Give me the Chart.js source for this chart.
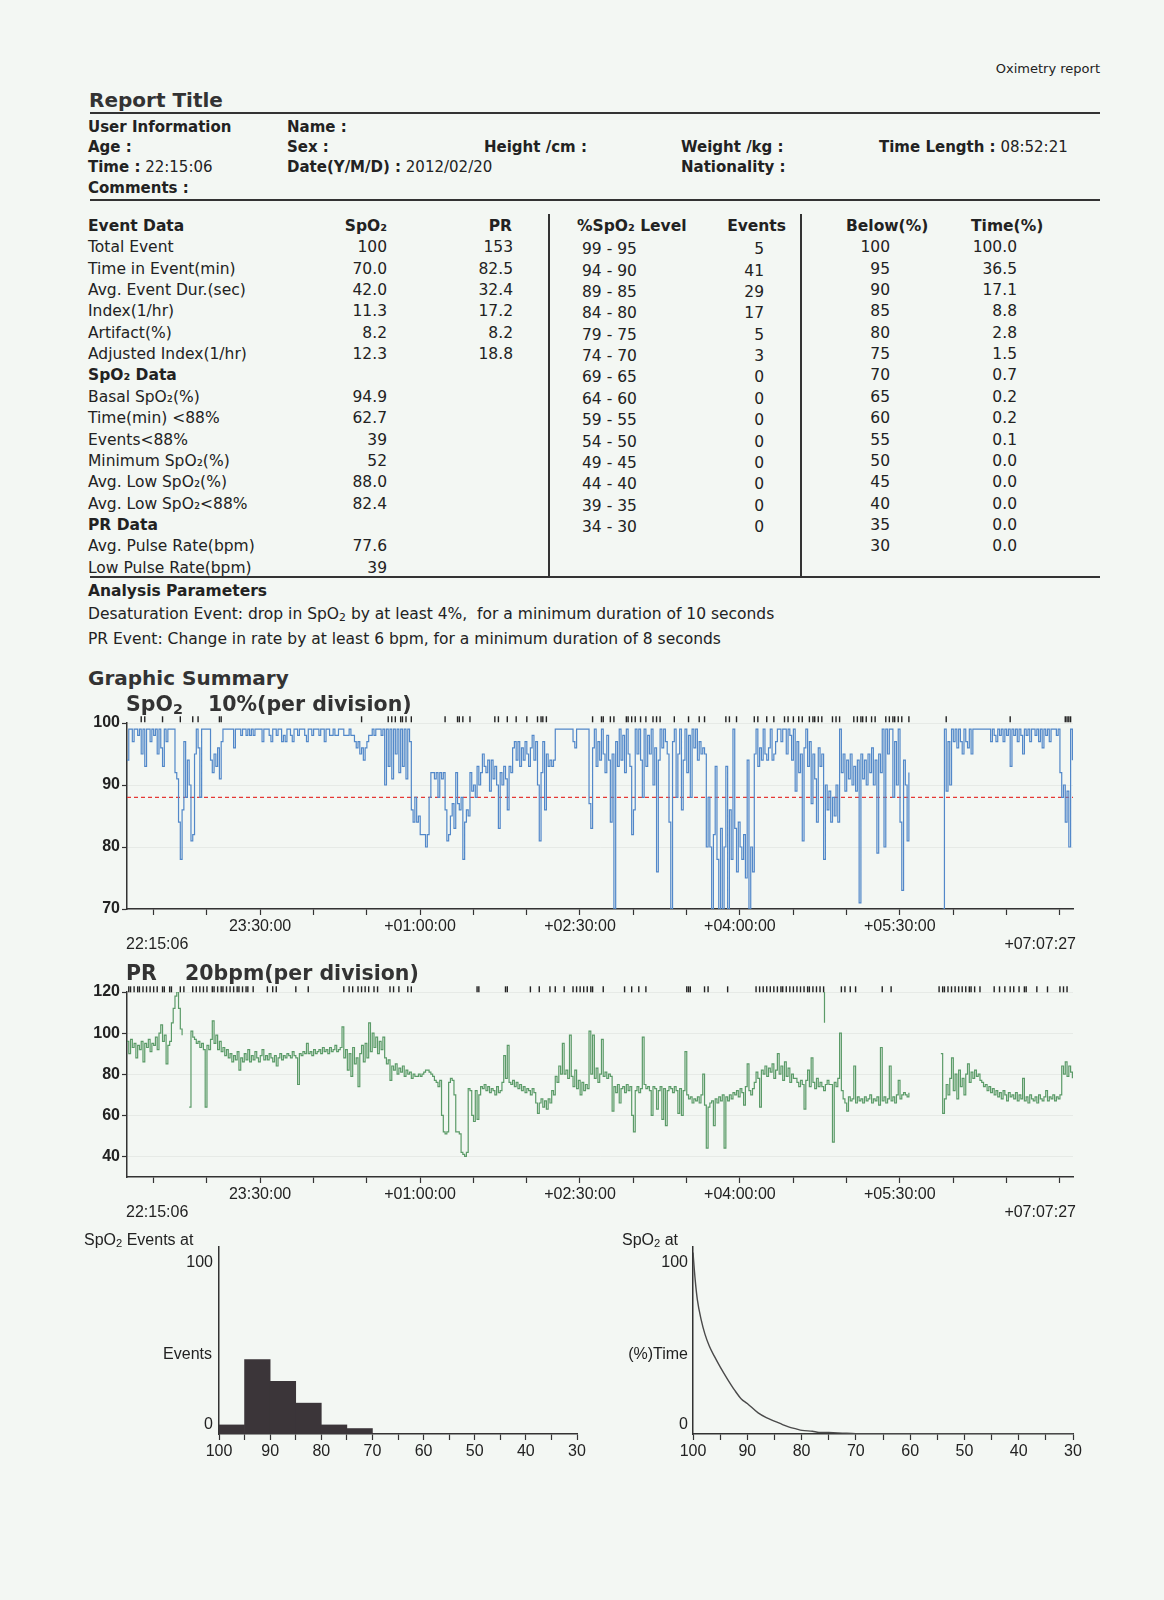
<!DOCTYPE html>
<html>
<head>
<meta charset="utf-8">
<script src="https://cdn.jsdelivr.net/npm/chart.js@4.4.1/dist/chart.umd.min.js"></script>
<style>
    body { margin: 0; background: #f3f7f3; }
    #page { position: relative; width: 1164px; height: 1600px; overflow: hidden; background: #f3f7f3;
        font-family: "DejaVu Sans", sans-serif; color: #222; }
    .txt { position: absolute; white-space: nowrap; line-height: 1.15; }
    .rule { position: absolute; background: #333; }
    canvas { position: absolute; }
    sub { font-size: 0.7em; vertical-align: -0.2em; line-height: 0; }
</style>
</head>
<body>
<div id="page">
    <canvas id="spo2-chart" width="1002" height="235" style="left:80px; top:700px;"></canvas>
    <canvas id="pr-chart" width="1002" height="233" style="left:80px; top:970px;"></canvas>
    <canvas id="events-chart" width="439" height="234" style="left:150px; top:1230px;"></canvas>
    <canvas id="time-chart" width="465" height="234" style="left:620px; top:1230px;"></canvas>
</div>
<script>
// Recording: start 22:15:06, length 08:52:21
const totalMinutes = 532.35;
const axisTickMinutes = [14.9, 44.9, 74.9, 104.9, 134.9, 164.9, 194.9, 224.9, 254.9, 284.9, 314.9, 344.9, 374.9, 404.9, 434.9, 464.9, 494.9, 524.9];
const axisLabelMinutes = [74.9, 164.9, 254.9, 344.9, 434.9];
const axisLabels = ['23:30:00', '+01:00:00', '+02:30:00', '+04:00:00', '+05:30:00'];

// SpO2 trace, one value per minute from the start (null = no signal)
const spo2Values = [
    94, 99, 99, 97, 99, 99, 98, 99, 95, 99,
    93, 99, 99, 97, 99, 98, 99, 95, 99, 96,
    93, 99, 97, 99, 99, 99, 99, 92, 91, 84,
    78, 86, 97, 88, 94, 90, 81, 82, 95, 99,
    96, 88, 99, 99, 99, 99, 99, 94, 92, 95,
    93, 96, 91, 97, 99, 99, 99, 99, 99, 99,
    96, 99, 99, 99, 98, 99, 99, 98, 99, 98,
    99, 98, 99, 99, 99, 99, 97, 99, 99, 99,
    98, 97, 99, 99, 98, 99, 99, 97, 98, 97,
    99, 99, 98, 97, 99, 99, 98, 99, 99, 99,
    98, 97, 99, 99, 98, 99, 99, 99, 98, 99,
    99, 97, 99, 99, 98, 98, 99, 98, 98, 99,
    99, 99, 98, 98, 98, 99, 98, 98, 97, 96,
    97, 95, 96, 94, 96, 97, 98, 98, 99, 98,
    99, 99, 99, 98, 99, 90, 99, 93, 99, 91,
    99, 95, 99, 92, 99, 93, 99, 91, 99, 97,
    86, 84, 88, 84, 85, 82, 82, 82, 80, 82,
    88, 92, 92, 91, 92, 88, 92, 91, 92, 86,
    81, 82, 85, 87, 83, 92, 87, 86, 88, 78,
    84, 86, 85, 92, 89, 90, 88, 93, 90, 92,
    95, 93, 92, 94, 89, 94, 91, 93, 90, 83,
    92, 90, 93, 91, 86, 93, 92, 96, 97, 94,
    97, 93, 96, 94, 97, 95, 93, 96, 98, 94,
    97, 90, 81, 92, 97, 86, 95, 93, 94, 93,
    94, 99, 99, 99, 99, 99, 99, 99, 99, 99,
    99, 97, 96, 99, 99, 99, 99, 99, 99, 99,
    87, 83, 96, 99, 93, 97, 94, 99, 95, 92,
    98, 94, 84, 95, 70, 97, 93, 99, 94, 98,
    92, 99, 95, 93, 82, 86, 99, 95, 99, 94,
    88, 99, 93, 98, 95, 99, 90, 96, 76, 94,
    99, 96, 99, 97, 95, 84, 70, 97, 99, 88,
    95, 99, 86, 94, 99, 92, 98, 88, 99, 96,
    99, 94, 97, 95, 96, 95, 80, 88, 80, 70,
    82, 93, 78, 70, 83, 70, 80, 93, 70, 86,
    78, 99, 83, 76, 84, 80, 78, 82, 75, 94,
    70, 80, 76, 95, 99, 93, 96, 94, 99, 95,
    94, 96, 99, 94, 95, 97, 99, 99, 97, 99,
    99, 95, 99, 98, 94, 99, 89, 97, 92, 95,
    81, 96, 99, 93, 97, 87, 95, 91, 84, 96,
    93, 95, 78, 90, 86, 89, 84, 88, 85, 90,
    84, 99, 92, 95, 89, 94, 91, 95, 90, 93,
    89, 94, 71, 95, 91, 94, 90, 95, 92, 96,
    90, 94, 79, 95, 92, 99, 80, 99, 95, 99,
    99, 88, 97, 90, 99, 84, 73, 94, 90, 81,
    92, null, null, null, null, null, null, null, null, null,
    null, null, null, null, null, null, null, null, null, 70,
    99, 89, 97, 90, 99, 97, 99, 96, 99, 97,
    95, 99, 97, 96, 99, 95, 99, 99, 99, 99,
    99, 99, 99, 99, 99, 99, 97, 99, 98, 97,
    99, 98, 99, 97, 99, 98, 99, 93, 99, 98,
    99, 97, 99, 98, 95, 99, 98, 99, 97, 99,
    99, 98, 99, 97, 99, 96, 99, 98, 99, 97,
    99, 99, 99, 98, 99, 92, 88, 90, 84, 89,
    80, 99, 94
];

// Pulse rate trace, one value per minute from the start
const prValues = [
    96, 90, 97, 93, 95, 88, 94, 92, 96, 86,
    95, 93, 97, 91, 95, 94, 98, 92, 100, 104,
    96, 99, 85, 94, 96, 105, 112, 118, 120, 112,
    102, 99, null, null, null, 64, 101, 98, 97, 95,
    96, 93, 95, 92, 64, 94, 92, 97, 106, 95,
    99, 92, 96, 91, 93, 89, 92, 88, 90, 86,
    89, 87, 91, 82, 88, 86, 90, 87, 92, 86,
    89, 87, 91, 88, 86, 89, 92, 87, 89, 87,
    90, 88, 86, 89, 84, 88, 90, 87, 89, 88,
    90, 89, 88, 91, 89, 88, 75, 90, 89, 91,
    90, 95, 90, 91, 89, 92, 90, 91, 92, 90,
    93, 91, 92, 90, 93, 91, 92, 94, 91, 92,
    93, 103, 88, 92, 82, 90, 79, 93, 85, 88,
    74, 90, 94, 86, 95, 88, 105, 91, 100, 93,
    98, 90, 96, 92, 98, 88, 85, 87, 77, 84,
    82, 85, 80, 83, 81, 84, 79, 82, 80, 81,
    78, 80, 79, 79, 80, 79, 80, 81, 82, 82,
    81, 80, 79, 77, 76, 74, 77, 60, 52, 51,
    52, 76, 78, 77, 70, 52, 52, 51, 42, 41,
    40, 42, 73, 72, 60, 57, 72, 58, 70, 74,
    73, 75, 72, 74, 71, 73, 72, 70, 74, 71,
    72, 76, 89, 78, 94, 76, 75, 77, 74, 76,
    73, 75, 72, 74, 71, 73, 72, 70, 73, 71,
    66, 61, 66, 68, 64, 67, 63, 68, 66, 72,
    70, 79, 76, 84, 80, 95, 80, 82, 78, 99,
    79, 74, 82, 73, 77, 70, 76, 72, 75, 73,
    101, 80, 99, 78, 83, 76, 80, 97, 79, 81,
    78, 80, 79, 62, 74, 71, 75, 66, 73, 74,
    71, 75, 72, 74, 60, 52, 72, 74, 71, 73,
    98, 75, 73, 74, 72, 60, 74, 73, 63, 72,
    74, 58, 73, 55, 72, 74, 73, 71, 74, 72,
    61, 73, 60, 72, 91, 70, 68, 69, 66, 68,
    67, 69, 66, 70, 80, 65, 44, 64, 66, 67,
    55, 68, 66, 69, 67, 70, 44, 69, 67, 70,
    68, 71, 70, 72, 69, 73, 71, 65, 74, 85,
    72, 70, 73, 76, 81, 78, 64, 82, 80, 84,
    79, 83, 81, 85, 78, 82, 90, 80, 84, 77,
    86, 79, 83, 76, 80, 78, 78, 76, 74, 77,
    75, 63, 77, 82, 74, 88, 76, 73, 78, 74,
    76, 74, 72, 75, 77, 75, 75, 47, 76, 74,
    78, 100, 72, 68, 66, 62, 69, 67, 68, 84,
    66, 69, 67, 68, 66, 69, 67, 68, 70, 66,
    68, 67, 69, 65, 93, 67, 69, 66, 68, 84,
    67, 69, 66, 70, 77, 68, 70, 71, 70, 69,
    71, null, null, null, null, null, null, null, null, null,
    null, null, null, null, null, null, null, null, 90, 61,
    68, 75, 70, 78, 88, 72, 80, 68, 82, 74,
    78, 70, 80, 85, 76, 81, 78, 82, 79, 80,
    77, 76, 74, 75, 72, 74, 71, 73, 70, 72,
    69, 71, 68, 72, 70, 67, 71, 69, 70, 68,
    71, 67, 70, 68, 78, 67, 69, 66, 70, 68,
    67, 69, 66, 70, 68, 67, 69, 72, 67, 69,
    68, 70, 67, 69, 68, 70, 84, 80, 86, 79,
    84, 81, 78
];

// isolated PR artifact near +04:37
const prArtifactMinutes = [392.5, 392.5];
const prArtifactValues = [120, 105];

// event marks along the top of each trace (minutes from start)
const spo2EventMinutes = [8, 10, 20, 30, 37, 40, 52, 53, 132, 147, 149, 151, 154, 155, 157, 160, 179, 186, 187, 189, 193, 207, 209, 214, 219, 225, 231, 233, 234, 236,
    262, 267, 268, 272, 274, 281, 282, 284, 286, 289, 292, 296, 298, 300, 308, 316, 322, 325, 337, 339, 343, 353, 355, 360, 364, 370, 372, 375, 378, 380,
    384, 386, 387, 389, 391, 397, 399, 401, 409, 411, 413, 414, 416, 419, 421, 427, 429, 431, 432, 434, 436, 440, 461, 497, 528, 529, 530, 531];
const prEventMinutes = [1, 2, 4, 6, 7, 9, 11, 13, 15, 17, 20, 21, 24, 25, 30, 32, 37, 39, 41, 43, 45, 48, 49, 51, 53, 54, 56, 58, 60, 62, 63, 65, 67, 68, 71, 79, 82, 84, 95, 102,
    122, 125, 127, 130, 132, 134, 136, 139, 141, 148, 150, 153, 158, 160, 197, 198, 213, 214, 227, 232, 238, 241, 246, 251, 253, 255, 257, 259, 261, 262,
    268, 280, 284, 288, 292, 315, 316, 317, 325, 327, 338, 354, 356, 358, 360, 362, 364, 366, 368, 369, 371, 373, 375, 377, 379, 381, 383, 384, 386, 388,
    390, 392, 402, 404, 407, 410, 425, 430, 457, 459, 460, 462, 464, 466, 468, 470, 472, 474, 475, 477, 480, 488, 491, 494, 497, 499, 502, 505, 506, 512,
    518, 525, 527, 529];

const spo2Threshold = 88;

// Event data table
const eventLabels = ['Total Event', 'Time in Event(min)', 'Avg. Event Dur.(sec)', 'Index(1/hr)', 'Artifact(%)', 'Adjusted Index(1/hr)'];
const eventSpo2 = ['100', '70.0', '42.0', '11.3', '8.2', '12.3'];
const eventPr = ['153', '82.5', '32.4', '17.2', '8.2', '18.8'];
const spo2DataLabels = ['Basal SpO₂(%)', 'Time(min) <88%', 'Events<88%', 'Minimum SpO₂(%)', 'Avg. Low SpO₂(%)', 'Avg. Low SpO₂<88%'];
const spo2DataValues = ['94.9', '62.7', '39', '52', '88.0', '82.4'];
const prDataLabels = ['Avg. Pulse Rate(bpm)', 'Low Pulse Rate(bpm)'];
const prDataValues = ['77.6', '39'];

// %SpO2 level table (also drives the histogram)
const levelBins = ['99 - 95', '94 - 90', '89 - 85', '84 - 80', '79 - 75', '74 - 70', '69 - 65', '64 - 60', '59 - 55', '54 - 50', '49 - 45', '44 - 40', '39 - 35', '34 - 30'];
const levelCenters = [97.5, 92.5, 87.5, 82.5, 77.5, 72.5, 67.5, 62.5, 57.5, 52.5, 47.5, 42.5, 37.5, 32.5];
const levelEvents = [5, 41, 29, 17, 5, 3, 0, 0, 0, 0, 0, 0, 0, 0];
const belowLevels = [100, 95, 90, 85, 80, 75, 70, 65, 60, 55, 50, 45, 40, 35, 30];
const belowTime = ['100.0', '36.5', '17.1', '8.8', '2.8', '1.5', '0.7', '0.2', '0.2', '0.1', '0.0', '0.0', '0.0', '0.0', '0.0'];

// cumulative time curve
const curveLevels = [100, 99.6, 99.2, 98.5, 97.8, 97, 96.1, 95, 93.6, 92.3, 91.1, 90, 88, 86.5, 84.9, 83.5, 82.4, 81, 79.9, 78, 76.8, 75, 72.5, 70, 30];
const curveTime = [100, 85, 74, 63, 55, 48.5, 43, 37, 30, 24, 19.3, 16.8, 11.6, 9.0, 7.0, 5.2, 3.9, 2.8, 2.0, 1.5, 0.9, 0.8, 0.5, 0.2, 0.2];

const histTicks = [30, 35, 40, 45, 50, 55, 60, 65, 70, 75, 80, 85, 90, 95, 100];

const page = document.getElementById('page');

function addText(html, x, y, opts) {
    opts = opts || {};
    const el = document.createElement('div');
    el.className = 'txt';
    el.innerHTML = html;
    el.style.left = x + 'px';
    el.style.top = (y + 2) + 'px';
    el.style.fontSize = (opts.size || 15.5) + 'px';
    if (opts.bold) el.style.fontWeight = 'bold';
    if (opts.family) el.style.fontFamily = opts.family;
    if (opts.color) el.style.color = opts.color;
    el.style.transform = 'translate(' + (opts.align === 'right' ? '-100%' : '0') + ', -50%)';
    page.appendChild(el);
}

function addRule(x, y, w, h) {
    const el = document.createElement('div');
    el.className = 'rule';
    el.style.left = x + 'px';
    el.style.top = y + 'px';
    el.style.width = w + 'px';
    el.style.height = h + 'px';
    page.appendChild(el);
}

// Header
function renderHeader() {
    addText('Oximetry report', 1100, 67, { size: 13, align: 'right' });
    addText('Report Title', 89, 98, { size: 20, bold: true, color: '#333' });
    addRule(90, 112, 1010, 1.5);

    addText('User Information', 88, 126, { bold: true, size: 15 });
    addText('Name :', 287, 126, { bold: true, size: 15 });
    addText('Age :', 88, 146, { bold: true, size: 15 });
    addText('Sex :', 287, 146, { bold: true, size: 15 });
    addText('Height /cm :', 484, 146, { bold: true, size: 15 });
    addText('Weight /kg :', 681, 146, { bold: true, size: 15 });
    addText('<b>Time Length :</b> 08:52:21', 879, 146, { size: 15 });
    addText('<b>Time :</b> 22:15:06', 88, 166, { size: 15 });
    addText('<b>Date(Y/M/D) :</b> 2012/02/20', 287, 166, { size: 15 });
    addText('Nationality :', 681, 166, { bold: true, size: 15 });
    addText('Comments :', 88, 187, { bold: true, size: 15 });
    addRule(90, 199, 1010, 1.5);
}

// Event data and level tables
function renderTables() {
    const rowY = i => 225 + 21.35 * i;

    addText('Event Data', 88, rowY(0), { bold: true });
    addText('SpO₂', 387, rowY(0), { bold: true, align: 'right' });
    addText('PR', 512, rowY(0), { bold: true, align: 'right' });

    let row = 1;
    eventLabels.forEach((label, i) => {
        addText(label, 88, rowY(row));
        addText(eventSpo2[i], 387, rowY(row), { align: 'right' });
        addText(eventPr[i], 513, rowY(row), { align: 'right' });
        row++;
    });
    addText('SpO₂ Data', 88, rowY(row++), { bold: true });
    spo2DataLabels.forEach((label, i) => {
        addText(label, 88, rowY(row));
        addText(spo2DataValues[i], 387, rowY(row), { align: 'right' });
        row++;
    });
    addText('PR Data', 88, rowY(row++), { bold: true });
    prDataLabels.forEach((label, i) => {
        addText(label, 88, rowY(row));
        addText(prDataValues[i], 387, rowY(row), { align: 'right' });
        row++;
    });

    addText('%SpO₂ Level', 577, rowY(0), { bold: true });
    addText('Events', 786, rowY(0), { bold: true, align: 'right' });
    levelBins.forEach((bin, i) => {
        addText(bin, 582, rowY(i + 1) + 2);
        addText(String(levelEvents[i]), 764, rowY(i + 1) + 2, { align: 'right' });
    });

    addText('Below(%)', 846, rowY(0), { bold: true });
    addText('Time(%)', 971, rowY(0), { bold: true });
    belowLevels.forEach((lvl, i) => {
        addText(String(lvl), 890, rowY(i + 1), { align: 'right' });
        addText(belowTime[i], 1017, rowY(i + 1), { align: 'right' });
    });

    addRule(548, 214, 1.5, 363);
    addRule(800, 214, 1.5, 363);
    addRule(90, 576, 1010, 1.5);

    addText('Analysis Parameters', 88, 590, { bold: true });
    addText('Desaturation Event: drop in SpO<sub>2</sub> by at least 4%,&nbsp; for a minimum duration of 10 seconds', 88, 613);
    addText('PR Event: Change in rate by at least 6 bpm, for a minimum duration of 8 seconds', 88, 638);

    addText('Graphic Summary', 88, 676, { size: 20, bold: true, color: '#333' });
}

function renderCaptions() {
    const arial = "'Liberation Sans', Arial, sans-serif";
    addText('SpO<sub>2</sub>', 126, 703, { size: 20.5, bold: true, color: '#333' });
    addText('10%(per division)', 208, 703, { size: 20.5, bold: true, color: '#333' });
    addText('22:15:06', 126, 942, { size: 16, family: arial });
    addText('+07:07:27', 1076, 942, { size: 16, family: arial, align: 'right' });

    addText('PR', 126, 972, { size: 20.5, bold: true, color: '#333' });
    addText('20bpm(per division)', 185, 972, { size: 20.5, bold: true, color: '#333' });
    addText('22:15:06', 126, 1210, { size: 16, family: arial });
    addText('+07:07:27', 1076, 1210, { size: 16, family: arial, align: 'right' });

    addText('SpO<sub>2</sub> Events at', 84, 1238, { size: 16, family: arial });
    addText('100', 213, 1260, { size: 16, family: arial, align: 'right' });
    addText('Events', 212, 1352, { size: 16, family: arial, align: 'right' });
    addText('0', 213, 1422, { size: 16, family: arial, align: 'right' });

    addText('SpO<sub>2</sub> at', 622, 1238, { size: 16, family: arial });
    addText('100', 688, 1260, { size: 16, family: arial, align: 'right' });
    addText('(%)Time', 688, 1352, { size: 16, family: arial, align: 'right' });
    addText('0', 688, 1422, { size: 16, family: arial, align: 'right' });
}

Chart.defaults.font.family = "'Liberation Sans', Arial, sans-serif";
Chart.defaults.color = '#222';
Chart.defaults.animation = false;
Chart.defaults.plugins.legend.display = false;
Chart.defaults.plugins.tooltip.enabled = false;

function timeAxis() {
    return {
        type: 'linear',
        min: 0,
        max: totalMinutes,
        afterBuildTicks: scale => { scale.ticks = axisTickMinutes.map(v => ({ value: v })); },
        afterFit: scale => { scale.height = 26; },
        ticks: {
            autoSkip: false,
            maxRotation: 0,
            padding: 2,
            font: { size: 16 },
            callback: value => {
                const idx = axisLabelMinutes.findIndex(m => Math.abs(m - value) < 0.01);
                return idx >= 0 ? axisLabels[idx] : '';
            }
        },
        grid: { drawOnChartArea: false, tickLength: 6, tickColor: '#333', tickWidth: 1.2 },
        border: { color: '#333', width: 1.5 }
    };
}

function valueAxis(min, max, ticks) {
    return {
        min: min,
        max: max,
        afterBuildTicks: scale => { scale.ticks = ticks.map(v => ({ value: v })); },
        afterFit: scale => { scale.width = 47; },
        ticks: { padding: 2, font: { size: 16, weight: 'bold' } },
        grid: { color: 'rgba(0,0,0,0.05)', tickLength: 5, tickColor: '#333', tickWidth: 1.2 },
        border: { color: '#333', width: 1.5 }
    };
}

function markDataset(minutes, y) {
    return {
        data: minutes.map(m => ({ x: m, y: y })),
        showLine: false,
        pointStyle: 'line',
        rotation: 90,
        pointRadius: 3,
        pointHoverRadius: 3,
        pointBorderWidth: 1.4,
        pointBorderColor: '#222',
        clip: false
    };
}

function renderSpo2Chart() {
    new Chart(document.getElementById('spo2-chart'), {
        type: 'line',
        data: {
            datasets: [
                {
                    data: spo2Values.map((v, i) => ({ x: i, y: v })),
                    borderColor: '#5288c9',
                    borderWidth: 1.2,
                    pointRadius: 0,
                    stepped: true,
                    spanGaps: false
                },
                {
                    data: [{ x: 0, y: spo2Threshold }, { x: totalMinutes, y: spo2Threshold }],
                    borderColor: '#e53935',
                    borderWidth: 1.3,
                    borderDash: [4, 3],
                    pointRadius: 0
                },
                markDataset(spo2EventMinutes, 100.6)
            ]
        },
        options: {
            responsive: false,
            layout: { padding: { top: 23, right: 9, left: 0, bottom: 0 } },
            scales: { x: timeAxis(), y: valueAxis(70, 100, [70, 80, 90, 100]) }
        }
    });
}

function renderPrChart() {
    new Chart(document.getElementById('pr-chart'), {
        type: 'line',
        data: {
            datasets: [
                {
                    data: prValues.map((v, i) => ({ x: i, y: v })),
                    borderColor: '#5b9b68',
                    borderWidth: 1.2,
                    pointRadius: 0,
                    stepped: true,
                    spanGaps: false
                },
                {
                    data: prArtifactMinutes.map((m, i) => ({ x: m, y: prArtifactValues[i] })),
                    borderColor: '#5b9b68',
                    borderWidth: 1.2,
                    pointRadius: 0
                },
                markDataset(prEventMinutes, 121.3)
            ]
        },
        options: {
            responsive: false,
            layout: { padding: { top: 22, right: 9, left: 0, bottom: 0 } },
            scales: { x: timeAxis(), y: valueAxis(30, 120, [40, 60, 80, 100, 120]) }
        }
    });
}

function levelAxis() {
    return {
        type: 'linear',
        min: 30,
        max: 100,
        reverse: true,
        offset: false,
        afterBuildTicks: scale => { scale.ticks = histTicks.map(v => ({ value: v })); },
        afterFit: scale => { scale.height = 30; },
        ticks: {
            autoSkip: false,
            maxRotation: 0,
            padding: 2,
            font: { size: 16 },
            callback: value => (value % 10 === 0 ? String(value) : '')
        },
        grid: { drawOnChartArea: false, offset: false, tickLength: 6, tickColor: '#333', tickWidth: 1.2 },
        border: { color: '#333', width: 1.5 }
    };
}

function percentAxis(width) {
    return {
        min: 0,
        max: 103,
        afterFit: scale => { scale.width = width; },
        ticks: { display: false },
        grid: { display: false },
        border: { color: '#333', width: 1.5 }
    };
}

function renderEventsChart() {
    new Chart(document.getElementById('events-chart'), {
        type: 'bar',
        data: {
            datasets: [{
                data: levelCenters.map((c, i) => ({ x: c, y: levelEvents[i] })),
                backgroundColor: '#3b3539',
                borderWidth: 0,
                barPercentage: 1,
                categoryPercentage: 1
            }]
        },
        options: {
            responsive: false,
            layout: { padding: { top: 17, right: 12, left: 0, bottom: 0 } },
            scales: { x: levelAxis(), y: percentAxis(69) }
        }
    });
}

function renderTimeChart() {
    new Chart(document.getElementById('time-chart'), {
        type: 'line',
        data: {
            datasets: [{
                data: curveLevels.map((l, i) => ({ x: l, y: curveTime[i] })),
                borderColor: '#4a4a4a',
                borderWidth: 1.4,
                pointRadius: 0,
                cubicInterpolationMode: 'monotone'
            }]
        },
        options: {
            responsive: false,
            layout: { padding: { top: 17, right: 12, left: 0, bottom: 0 } },
            scales: { x: levelAxis(), y: percentAxis(73) }
        }
    });
}

renderHeader();
renderTables();
renderCaptions();
renderSpo2Chart();
renderPrChart();
renderEventsChart();
renderTimeChart();
</script>
</body>
</html>
